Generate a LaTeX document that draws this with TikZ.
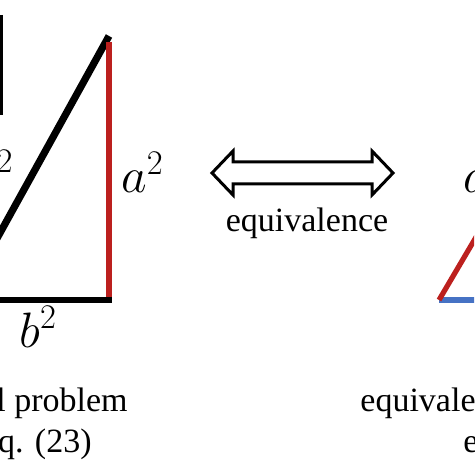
\documentclass[tikz,border=0pt]{standalone}
\usepackage{amsmath}
\usepackage{fontspec}
\setmainfont{Liberation Serif}
\usepackage{tikz}
\definecolor{sidered}{RGB}{188,32,30}
\definecolor{sideblue}{RGB}{70,114,196}
\tikzset{
  side/.style={line width=2.6pt},
  lbl/.style={inner sep=0pt, font=\fontsize{17}{20}\selectfont},
  mlbl/.style={inner sep=0pt, font=\fontsize{23}{26}\selectfont},
}

\begin{document}
\begin{tikzpicture}[x=0.5pt,y=-0.5pt]
\useasboundingbox (0,0) rectangle (474,474);
\clip (0,0) rectangle (474,474);
% left triangle
\coordinate (bl) at (-10,300);
\coordinate (br) at (109,300);
\coordinate (rt) at (109,42);
\coordinate (dlo) at (-5,242);
\coordinate (dhi) at (109,36);
\coordinate (vt) at (0,15);
\coordinate (vb) at (0,115);
\draw[side] (vt) -- (vb);
\draw[side, line width=3.6pt] (dlo) -- (dhi);
\draw[side, sidered] (rt) -- (br);
\draw[side, line cap=rect] (bl) -- (br);
\node[mlbl, anchor=base east] (csq) at (13,173) {$\scriptstyle 2$};
\node[mlbl, anchor=base west] (asq) at (121,193) {$a^2$};
\node[mlbl, anchor=base west] (bsq) at (19,347) {$b^2$};
\node[lbl, anchor=base east] (orig) at (128,411) {l problem};
\node[lbl, anchor=base east] (origeq) at (92,452) {eq. (23)};
% equivalence arrow
\draw[line width=1.5pt, line join=miter]
  (212,173) -- (233,151) -- (233,162) -- (372,162) -- (372,151) -- (393,173)
  -- (372,195) -- (372,184) -- (233,184) -- (233,195) -- cycle;
\node[lbl, anchor=base] (equiv) at (307,232) {equivalence};
% right triangle
\coordinate (rbl) at (439,300);
\coordinate (rbr) at (490,300);
\coordinate (rtop) at (492,210);
\draw[side, sideblue] (rbl) -- (rbr);
\draw[side, sidered] (rbl) -- (rtop);
\node[mlbl, anchor=base west] (asq2) at (463,193) {$a$};
\node[lbl, anchor=base west] (equi) at (360,411) {equivale};
\node[lbl, anchor=base west] (equieq) at (463,452) {e};
\end{tikzpicture}
\end{document}
